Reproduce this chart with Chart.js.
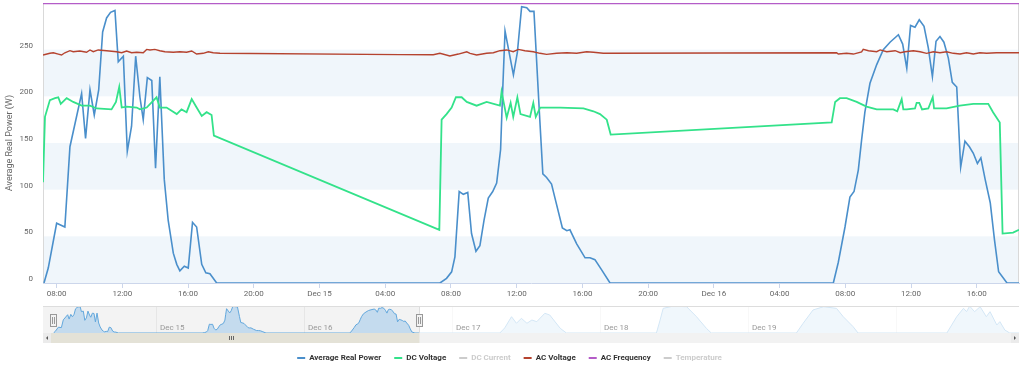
<!DOCTYPE html>
<html><head><meta charset="utf-8">
<script src="https://cdn.jsdelivr.net/npm/chart.js@4.4.0/dist/chart.umd.min.js"></script>
<style>
html,body{margin:0;padding:0;background:#fff;overflow:hidden;width:1024px;height:368px;}
#main{position:absolute;left:0;top:0;}
#nav{position:absolute;left:0;top:295px;}
</style></head><body>
<canvas id="main" width="1024" height="372" style="width:1024px;height:372px"></canvas>
<canvas id="nav" width="1024" height="55" style="width:1024px;height:55px"></canvas>
<script>
// ---- Data (x = hours since Dec 14 00:00) ----
const viewStart = 7.17, viewEnd = 66.57;
const navStart = 5.52, navEnd = 163.8;
const xTickHours = [8,12,16,20,24,28,32,36,40,44,48,52,56,60,64];
const yTickValues = [0,50,100,150,200,250];
const navDayHours = [24,48,72,96,120,144];
const navDayLabels = ['Dec 15','Dec 16','Dec 17','Dec 18','Dec 19',''];
const bandRanges = [[0,50],[100,150],[200,250]];

const powerHours = [7.23,7.49,8.00,8.50,8.81,9.52,9.76,10.03,10.29,10.56,10.80,11.04,11.28,11.55,11.75,12.06,12.30,12.56,12.81,13.07,13.27,13.52,13.79,14.02,14.28,14.55,14.79,15.10,15.31,15.50,15.77,16.01,16.27,16.52,16.83,17.08,17.33,17.74,
 31.33,31.73,32.04,32.24,32.50,32.75,33.02,33.25,33.52,33.76,34.01,34.27,34.54,34.78,35.02,35.14,35.29,35.80,36.04,36.30,36.61,36.81,37.05,37.38,37.59,37.82,38.12,38.33,38.78,39.05,39.24,39.65,40.16,40.46,40.76,41.17,41.68,
 55.27,55.57,55.98,56.28,56.53,56.79,56.99,57.19,57.50,57.91,58.31,58.72,59.23,59.49,59.74,59.97,60.24,60.50,60.79,61.05,61.30,61.52,61.76,62.00,62.27,62.51,62.78,63.02,63.28,63.55,63.79,64.04,64.25,64.51,64.82,65.08,65.33,65.84,66.57];
const powerWatts = [0,16,64,60,146,203,155,207,180,207,269,284,290,292,237,243,141,168,243,199,175,220,217,123,221,111,67,32,20,13,18,16,65,60,20,11,10,0,
 0,5,12,28,98,95,97,53,34,40,67,91,98,107,143,203,270,223,247,296,295,291,291,183,117,113,106,91,59,56,57,42,27,27,25,14,0,
 0,22,60,92,98,121,153,183,214,234,250,258,266,256,230,276,274,282,275,252,221,259,264,258,241,215,210,124,152,146,139,128,134,111,86,46,12,0,0];

const dcHours = [7.17,7.29,7.59,7.90,8.10,8.25,8.61,9.01,9.52,10.03,10.44,11.34,11.61,11.81,11.96,12.26,12.87,13.07,13.48,14.08,14.28,14.69,15.31,15.60,15.91,16.22,16.52,16.83,17.13,17.43,17.57,
 31.29,31.43,31.73,32.04,32.30,32.65,32.96,33.56,34.17,34.98,35.08,35.39,35.63,35.79,36.04,36.23,36.81,37.01,37.16,37.43,38.64,40.06,40.67,41.07,41.48,41.72,
 55.17,55.38,55.67,56.08,56.69,57.29,57.91,58.92,59.16,59.43,59.53,59.74,60.24,60.34,60.50,60.67,61.05,61.32,61.40,62.16,62.97,63.79,64.70,64.99,65.40,65.57,66.21,66.57];
const dcVolts = [108,178,196,198,199,192,198,194,190,190,187,186,194,210,188,189,188,186,188,199,188,188,181,186,183,197,188,179,183,180,158,
 57,175,181,188,199,199,194,190,194,190,205,177,193,178,199,181,178,193,178,188,188,187,184,181,175,159,
 172,194,198,198,194,189,186,186,184,197,186,186,187,193,193,186,187,199,187,187,190,192,192,183,172,53,54,57];

const acHours = [7.17,7.59,7.80,8.10,8.30,8.50,8.81,9.01,9.41,9.82,10.03,10.23,10.53,11.04,11.65,11.96,12.26,12.56,12.87,13.27,13.48,13.68,13.98,14.28,14.59,15.10,15.50,15.91,16.22,16.52,16.92,17.23,17.53,17.94,
 28.89,30.92,31.33,31.93,32.45,32.96,33.16,33.56,34.17,34.58,34.98,35.39,35.79,36.10,36.50,37.01,37.42,37.82,38.43,39.05,39.65,40.26,40.67,41.27,
 55.47,55.57,56.08,56.49,56.99,57.09,57.41,57.91,58.12,58.52,59.03,59.34,59.63,60.14,60.55,60.95,61.36,61.76,62.16,62.57,62.98,63.38,63.79,64.19,64.60,65.20,66.57];
const acVolts = [244.3,246.1,246.7,245.3,244.3,246.7,248.9,247.8,248.6,247.2,249.7,247.8,249.7,248.9,247.8,246.7,248.6,246.7,247.2,246.7,250.3,249.7,250.3,248.9,247.8,247.2,247.8,247.2,248.6,245.3,246.1,247.8,246.7,246.1,
 244.7,244.5,246.1,243.2,245.3,247.7,246.1,244.3,246.1,246.7,248.9,249.7,247.8,250.3,248.9,247.8,246.1,245.0,246.1,246.7,246.1,247.8,247.2,246.1,
 246.7,245.3,246.1,245.3,247.7,250.3,248.9,247.8,249.7,247.8,248.9,246.7,247.8,248.9,247.8,246.1,247.8,246.7,247.8,246.1,245.3,246.7,245.3,246.7,246.1,246.7,246.7];

const freqHours = [7.17,66.57];
const freqHz = [50,50];

// navigator-only days (Dec 17 - Dec 20)
const navExtraHours = [79.6,80.4,81.5,82.3,83.1,84.0,84.8,85.6,86.9,87.7,89.4,90.4,
 105.0,105.6,106.1,107.7,109.9,111.5,113.1,113.9,
 127.7,128.8,130.4,132.1,134.2,135.3,136.9,137.7,
 152.1,153.7,154.8,155.3,155.8,156.6,157.5,158.5,159.1,160.2,160.7,161.5,162.3,163.8];
const navExtraWatts = [0,56,181,108,163,108,144,126,219,200,52,0,
 0,144,274,298,292,181,52,0,
 0,108,256,292,274,181,70,0,
 0,181,274,237,298,237,292,181,237,89,126,33,0,0];

// ---- helpers ----
const FONT = 'Roboto';
const pts = (hs, vs) => hs.map((h, i) => ({x: h, y: vs[i]}));
const fmtHour = h => {
  if (h % 24 === 0) return 'Dec ' + (14 + h / 24);
  const hh = h % 24;
  return (hh < 10 ? '0' : '') + hh + ':00';
};

const bandPlugin = {
  id: 'bands',
  beforeDraw(chart) {
    const {ctx, chartArea: a, scales: {y}} = chart;
    ctx.save();
    ctx.fillStyle = '#f0f6fb';
    bandRanges.forEach(([f, t]) => {
      const y1 = Math.max(a.top, y.getPixelForValue(t)), y0 = y.getPixelForValue(f);
      ctx.fillRect(a.left, y1, a.right - a.left, y0 - y1);
    });
    ctx.strokeStyle = '#d9d9d9';
    ctx.lineWidth = 1;
    ctx.beginPath();
    ctx.moveTo(a.left + 0.5, a.top); ctx.lineTo(a.left + 0.5, a.bottom);
    ctx.moveTo(a.right - 0.5, a.top); ctx.lineTo(a.right - 0.5, a.bottom);
    ctx.stroke();
    ctx.restore();
  }
};

const mainChart = new Chart(document.getElementById('main'), {
  type: 'line',
  data: {
    datasets: [
      {label: 'Average Real Power', data: pts(powerHours, powerWatts), borderColor: '#4a8fcb', borderWidth: 1.6, order: 6},
      {label: 'DC Voltage', data: pts(dcHours, dcVolts), borderColor: '#33e28a', borderWidth: 1.8, order: 5},
      {label: 'DC Current', data: [], borderColor: '#7cb5ec', hidden: true, order: 4},
      {label: 'AC Voltage', data: pts(acHours, acVolts), borderColor: '#b5432f', borderWidth: 1.4, order: 3},
      {label: 'AC Frequency', data: pts(freqHours, freqHz), borderColor: '#b45cc8', borderWidth: 1.4, yAxisID: 'yF', order: 2},
      {label: 'Temperature', data: [], borderColor: '#f7a35c', hidden: true, order: 1}
    ]
  },
  options: {
    responsive: false, animation: false, events: [],
    elements: {point: {radius: 0}, line: {tension: 0, fill: false}},
    layout: {padding: {left: 0, right: 5, top: 3, bottom: 0}},
    scales: {
      x: {
        type: 'linear', min: viewStart, max: viewEnd,
        afterBuildTicks: s => { s.ticks = xTickHours.map(v => ({value: v})); },
        afterFit: s => { s.height = 372 - 283 - s.chart.legend.height; },
        ticks: {autoSkip: false, maxRotation: 0, padding: 1, color: '#666', font: {size: 8, family: FONT}, callback: v => fmtHour(v)},
        grid: {drawOnChartArea: false, drawTicks: true, tickLength: 5, color: '#ccd6eb'},
        border: {color: '#ccd6eb'}
      },
      y: {
        min: 0, max: 300,
        afterBuildTicks: s => { s.ticks = yTickValues.map(v => ({value: v})); },
        afterFit: s => { s.width = 43; },
        ticks: {padding: 0, labelOffset: -4, color: '#666', font: {size: 8, family: FONT, lineHeight: 0.7}},
        grid: {display: true, drawOnChartArea: false, drawTicks: true, tickLength: 10, color: 'rgba(0,0,0,0)'},
        border: {display: false},
        title: {display: true, text: 'Average Real Power (W)', color: '#666', font: {size: 9, family: FONT}, padding: {top: 4, bottom: 0}}
      },
      yF: {display: false, min: 0, max: 50.09}
    },
    plugins: {
      tooltip: {enabled: false},
      legend: {
        position: 'bottom', align: 'center', onClick: null,
        labels: {
          usePointStyle: true, pointStyle: 'line', pointStyleWidth: 8, padding: 13,
          font: {size: 8, family: FONT, weight: 'bold'}, color: '#333',
          generateLabels(chart) {
            return chart.data.datasets.map((ds, i) => {
              const c = ds.hidden ? '#cccccc' : ds.borderColor;
              return {text: ds.label, fillStyle: c, strokeStyle: c, lineWidth: 2, pointStyle: 'line',
                hidden: false, fontColor: ds.hidden ? '#cccccc' : '#333333', datasetIndex: i};
            });
          }
        }
      }
    }
  },
  plugins: [bandPlugin]
});

// ---- Navigator ----
const navData = pts(powerHours, powerWatts).concat(pts(navExtraHours, navExtraWatts));
const navPlugin = {
  id: 'navDeco',
  beforeDraw(chart) {
    const {ctx, chartArea: a, scales: {x}} = chart;
    const xr = x.getPixelForValue(viewEnd);
    ctx.save();
    ctx.fillStyle = '#f3f3f3';
    ctx.fillRect(a.left, a.top, xr - a.left, a.bottom - a.top);
    ctx.restore();
  },
  afterDatasetsDraw(chart) {
    const {ctx, chartArea: a, scales: {x}} = chart;
    const xr = x.getPixelForValue(viewEnd);
    ctx.save();
    ctx.fillStyle = 'rgba(255,255,255,0.72)';
    ctx.fillRect(xr, a.top, a.right - xr, a.bottom - a.top);
    ctx.restore();
  },
  afterDraw(chart) {
    const {ctx, chartArea: a, scales: {x}} = chart;
    const xl = x.getPixelForValue(viewStart), xr = x.getPixelForValue(viewEnd);
    ctx.save();
    ctx.strokeStyle = '#dddddd'; ctx.lineWidth = 1;
    ctx.beginPath(); ctx.moveTo(a.left, a.top + 0.5); ctx.lineTo(a.right, a.top + 0.5);
    ctx.moveTo(Math.round(xr) + 0.5, a.top); ctx.lineTo(Math.round(xr) + 0.5, a.bottom);
    ctx.stroke();
    // scrollbar
    const sy = a.bottom, sh = 10;
    ctx.fillStyle = '#f2f2f2'; ctx.fillRect(a.left, sy, a.right - a.left, sh);
    ctx.fillStyle = '#e4e2d7'; ctx.fillRect(a.left, sy, xr - a.left, sh);
    ctx.fillStyle = '#ebebeb';
    ctx.fillRect(a.left, sy, 8, sh); ctx.fillRect(a.right - 8, sy, 8, sh);
    ctx.fillStyle = '#555';
    ctx.beginPath(); ctx.moveTo(a.left + 5, sy + 3); ctx.lineTo(a.left + 5, sy + 7); ctx.lineTo(a.left + 3, sy + 5); ctx.closePath(); ctx.fill();
    ctx.beginPath(); ctx.moveTo(a.right - 5, sy + 3); ctx.lineTo(a.right - 5, sy + 7); ctx.lineTo(a.right - 3, sy + 5); ctx.closePath(); ctx.fill();
    const gc = Math.round((a.left + xr) / 2) + 0.5;
    ctx.strokeStyle = '#666'; ctx.beginPath();
    [-2, 0, 2].forEach(d => { ctx.moveTo(gc + d, sy + 3); ctx.lineTo(gc + d, sy + 7); });
    ctx.stroke();
    // handles
    [xl, xr].forEach(hx => {
      const c = Math.round(hx) + 0.5;
      ctx.fillStyle = '#f2f2f2'; ctx.strokeStyle = '#999';
      ctx.fillRect(c - 3, 19.5, 6, 12); ctx.strokeRect(c - 3, 19.5, 6, 12);
      ctx.beginPath();
      ctx.moveTo(c - 1, 22); ctx.lineTo(c - 1, 29);
      ctx.moveTo(c + 1, 22); ctx.lineTo(c + 1, 29);
      ctx.stroke();
    });
    ctx.restore();
  }
};

const navChart = new Chart(document.getElementById('nav'), {
  type: 'line',
  data: {datasets: [{label: 'Navigator', data: navData, borderColor: '#63a8dd', borderWidth: 1,
    backgroundColor: 'rgba(120,182,232,0.38)', fill: 'origin', pointRadius: 0, tension: 0}]},
  options: {
    responsive: false, animation: false, events: [],
    layout: {padding: {left: 43, right: 5, top: 11, bottom: 17}},
    plugins: {legend: {display: false}, tooltip: {enabled: false}},
    scales: {
      x: {
        type: 'linear', min: navStart, max: navEnd,
        afterBuildTicks: s => { s.ticks = navDayHours.map(v => ({value: v})); },
        afterFit: s => { s.height = 0; },
        grid: {color: '#e6e6e6', drawTicks: false},
        border: {display: false},
        ticks: {z: 1, mirror: true, autoSkip: false, maxRotation: 0, align: 'start', labelOffset: 3, padding: 0,
          color: '#999', font: {size: 8, family: FONT}, callback: (v, i) => navDayLabels[i]}
      },
      y: {display: false, min: 0, max: 300}
    }
  },
  plugins: [navPlugin]
});
</script>
</body></html>
